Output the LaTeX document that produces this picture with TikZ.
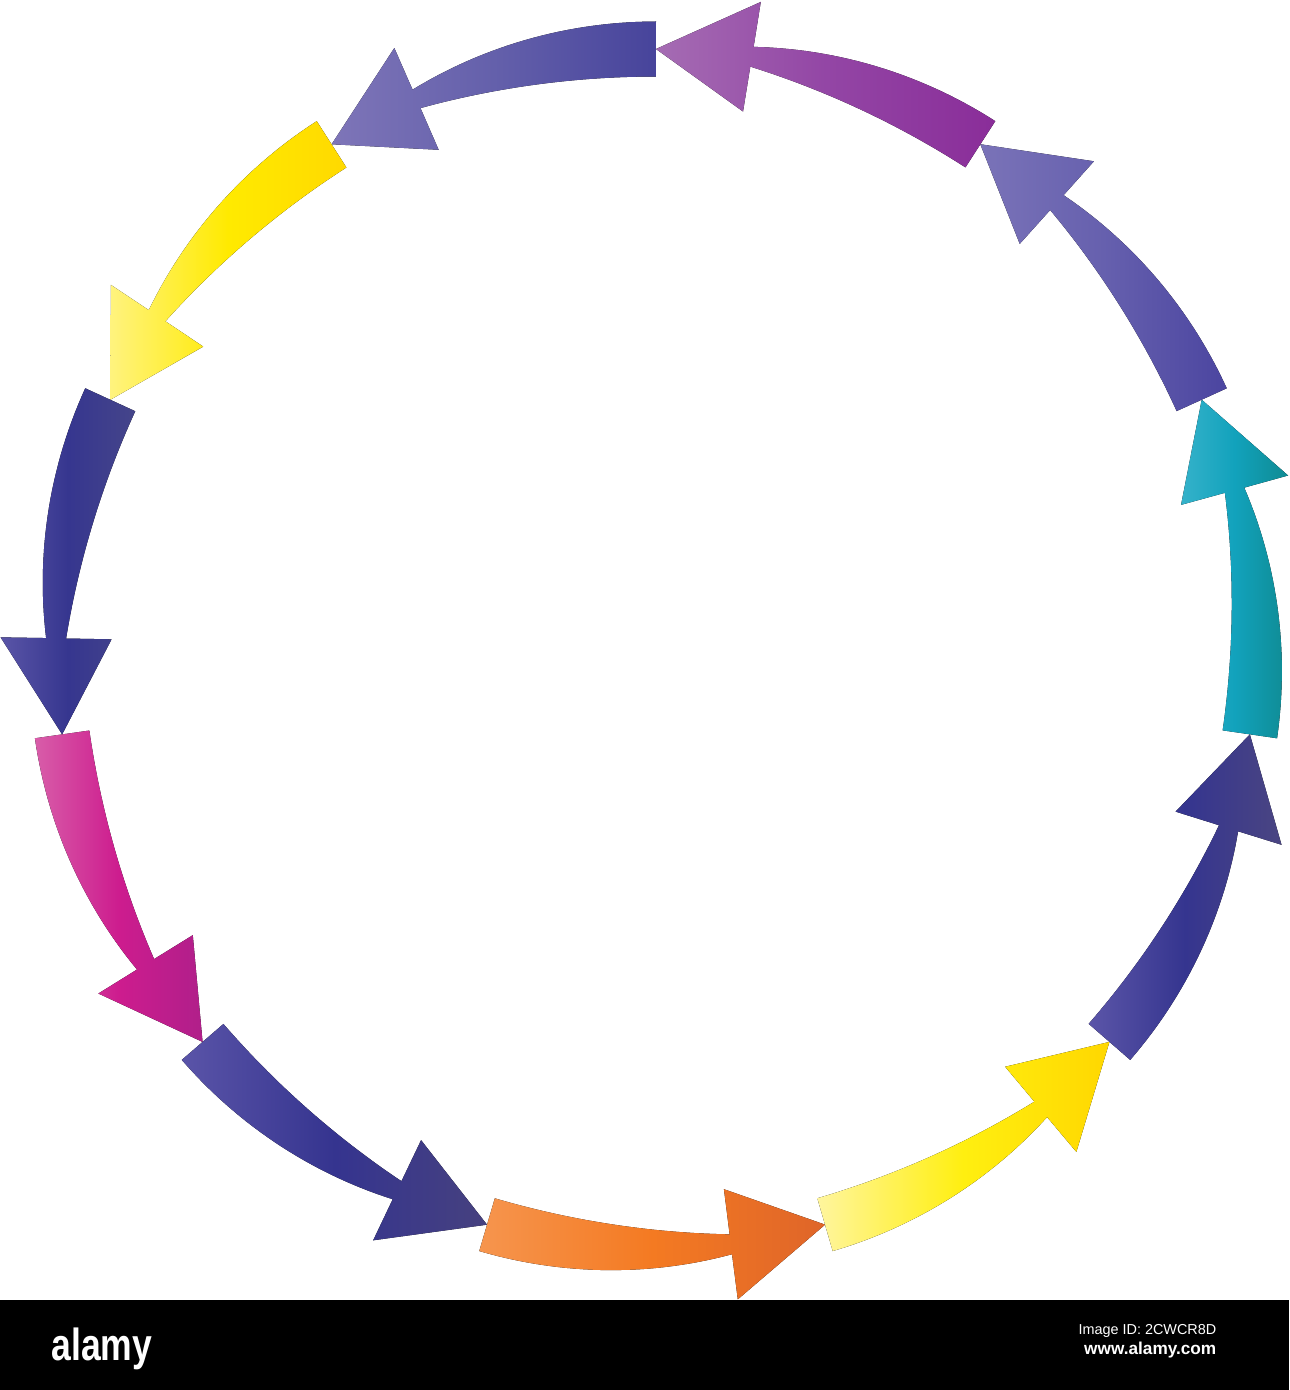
\documentclass[tikz,border=0pt]{standalone}
\usepackage{fontspec}
\newfontfamily\bannerfont{Liberation Sans}
\definecolor{purL}{HTML}{A56CB3}
\definecolor{purM}{HTML}{9346A5}
\definecolor{purR}{HTML}{8A2D99}
\definecolor{topL}{HTML}{7E75B8}
\definecolor{topM}{HTML}{6460AB}
\definecolor{topR}{HTML}{47449B}
\definecolor{ylwL}{HTML}{FFF37E}
\definecolor{ylwM}{HTML}{FFEA00}
\definecolor{ylwR}{HTML}{FFD900}
\definecolor{lftL}{HTML}{5A55A7}
\definecolor{lftM}{HTML}{36368F}
\definecolor{lftR}{HTML}{45458A}
\definecolor{magL}{HTML}{D85DA9}
\definecolor{magM}{HTML}{CD1C8E}
\definecolor{magR}{HTML}{B01F8A}
\definecolor{botL}{HTML}{5A54A8}
\definecolor{botM}{HTML}{35348F}
\definecolor{botR}{HTML}{46417F}
\definecolor{orgL}{HTML}{F6954E}
\definecolor{orgM}{HTML}{F47A22}
\definecolor{orgR}{HTML}{DF6529}
\definecolor{yltL}{HTML}{FFF59E}
\definecolor{yltM}{HTML}{FFEF10}
\definecolor{yltR}{HTML}{FFD700}
\definecolor{rgtL}{HTML}{5B55A8}
\definecolor{rgtM}{HTML}{35358F}
\definecolor{rgtR}{HTML}{4A4582}
\definecolor{tealL}{HTML}{35B2CA}
\definecolor{tealM}{HTML}{12A2BC}
\definecolor{tealR}{HTML}{0F8B93}
\definecolor{lavL}{HTML}{7A73B8}
\definecolor{lavM}{HTML}{6660AE}
\definecolor{lavR}{HTML}{4B45A0}

\begin{document}
\begin{tikzpicture}[
    bannertext/.style ={text=white, inner sep=0pt}]
   \useasboundingbox (0,0) rectangle (12.89,13.90);
   % ring of eleven arrows, 32.73 degrees each
   \begin{scope}[shift={(6.56,7.41)}]
   \foreach \a/\lc/\mc/\rc in {57.27/purL/purM/purR, 90/topL/topM/topR,
       122.73/ylwL/ylwM/ylwR, 155.45/lftL/lftM/lftR, 188.18/magL/magM/magR,
       220.91/botL/botM/botR, 253.64/orgL/orgM/orgR, 286.36/yltL/yltM/yltR,
       319.09/rgtL/rgtM/rgtR, 351.82/tealL/tealM/tealR, 384.55/lavL/lavM/lavR} {
     \pgfmathsetmacro\ab{\a+23.53}
     \pgfmathsetmacro\at{\a+32.73}
     \fill[left color=\lc, right color=\rc, middle color=\mc]
       plot[domain=0:1, samples=30, variable=\t] ({\a+\t*(\ab-\a)}:{6.1+0.175*(1-\t*\t)})
       -- (\ab:6.555) -- (\at:6) -- (\ab:5.445)
       -- plot[domain=1:0, samples=30, variable=\t] ({\a+\t*(\ab-\a)}:{5.9-0.175*(1-\t*\t)})
       -- cycle;
   }
   \end{scope}
   % banner
   \fill[black] (0,0) rectangle (12.89,0.90);
   \node[bannertext, anchor=base west, xscale=0.79,
         font=\bannerfont\bfseries\fontsize{12.8}{13}\selectfont] (logo) at (0.51,0.30) {alamy};
   \node[bannertext, anchor=base east,
         font=\bannerfont\fontsize{4.1}{5}\selectfont] (imageid) at (12.17,0.55) {Image ID: 2CWCR8D};
   \node[bannertext, anchor=base east,
         font=\bannerfont\bfseries\fontsize{4.9}{6}\selectfont] (site) at (12.17,0.35) {www.alamy.com};
 \end{tikzpicture}
\end{document}
